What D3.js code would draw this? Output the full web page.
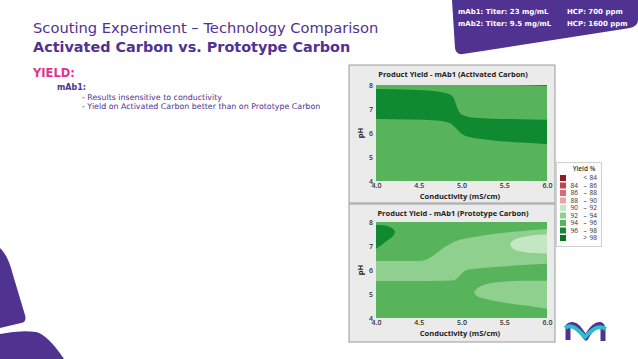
<!DOCTYPE html>
<html>
<head>
<meta charset="utf-8">
<script src="https://cdn.jsdelivr.net/npm/d3@7"></script>
<style>
  body { margin: 0; background: #fff; }
  svg { display: block; font-family: "DejaVu Sans", Verdana, sans-serif; }
  .axis text { font-family: "Open Sans", sans-serif; font-size: 7px; font-weight: 600; fill: #333; }
  .axis .domain { display: none; }
  .panel-title, .axis-label { font-family: "Open Sans", sans-serif; font-weight: 700; fill: #222; }
  .legend text { font-family: "Open Sans", sans-serif; font-size: 6.5px; fill: #333; }
</style>
</head>
<body>
<svg id="chart" width="638" height="359"></svg>
<script>
// ticks
const condTicks = [4.0, 4.5, 5.0, 5.5, 6.0]
const phTicks = [4, 5, 6, 7, 8]

// legend
const legendRanges = [["", "<", "84"], ["84", "–", "86"], ["86", "–", "88"], ["88", "–", "90"],
                      ["90", "–", "92"], ["92", "–", "94"], ["94", "–", "96"], ["96", "–", "98"], ["", ">", "98"]]
const legendColors = ["#8c1d24", "#c2434b", "#d96c72", "#eba3a7", "#c3e6c3", "#8fd08f", "#57b45b", "#0f8a30", "#0a7326"]

// Activated Carbon: boundaries of the 96-98 band, [conductivity, pH]
const actBandUpper = [[4.0, 7.83], [4.4, 7.8], [4.7, 7.74], [4.85, 7.62], [4.91, 7.45], [4.94, 7.15],
                      [4.97, 6.9], [5.02, 6.74], [5.15, 6.64], [5.6, 6.58], [6.0, 6.55]]
const actBandLower = [[4.0, 6.58], [4.4, 6.56], [4.7, 6.52], [4.86, 6.42], [4.93, 6.22], [4.99, 6.0],
                      [5.07, 5.85], [5.35, 5.7], [5.7, 5.6], [6.0, 5.53]]
const actCorner = [[5.65, 8.0], [5.85, 7.98], [6.0, 7.96]]

// Prototype Carbon: 92-94 band and closed regions
const protoBandUpper = [[4.0, 6.37], [4.5, 6.38], [4.6, 6.45], [4.68, 6.62], [4.8, 6.95], [4.92, 7.18],
                        [5.15, 7.37], [5.55, 7.57], [6.0, 7.71]]
const protoBandLower = [[4.0, 5.54], [4.6, 5.54], [4.9, 5.56], [4.97, 5.72], [5.02, 5.92], [5.11, 6.03],
                        [5.5, 6.15], [6.0, 6.26]]
const protoLobeHigh = [[5.57, 7.07], [5.6, 7.22], [5.68, 7.34], [5.82, 7.44], [6.0, 7.49], [6.15, 7.5],
                       [6.15, 6.68], [6.0, 6.69], [5.82, 6.71], [5.68, 6.78], [5.6, 6.9]]
const protoLobeLow = [[5.15, 5.05], [5.2, 5.28], [5.31, 5.43], [5.55, 5.53], [6.0, 5.55], [6.15, 5.55],
                      [6.15, 4.35], [6.0, 4.39], [5.75, 4.52], [5.5, 4.64], [5.3, 4.78], [5.19, 4.9]]
const protoBlob = [[3.9, 7.88], [4.0, 7.87], [4.1, 7.85], [4.18, 7.76], [4.22, 7.6], [4.2, 7.42],
                   [4.12, 7.2], [4.04, 6.98], [3.95, 6.82], [3.85, 6.9]]

const purple = "#503291"
const c90 = legendColors[4], c92 = legendColors[5], c94 = legendColors[6], c96 = legendColors[7]

const svg = d3.select("#chart")

// header banner
svg.append("path")
  .attr("d", "M452,0 H638 V20 Q638,26 630,28 L463,54 Q456,55 455,48 Z")
  .attr("fill", purple)
const banner = [["mAb1: Titer: 23 mg/mL", "HCP: 700 ppm", 14], ["mAb2: Titer: 9.5 mg/mL", "HCP: 1600 ppm", 26]]
banner.forEach(r => {
  svg.append("text").attr("x", 458).attr("y", r[2]).text(r[0])
    .attr("fill", "#fff").attr("font-size", 7).attr("font-weight", "bold")
  svg.append("text").attr("x", 567).attr("y", r[2]).text(r[1])
    .attr("fill", "#fff").attr("font-size", 7).attr("font-weight", "bold")
})

// titles and notes
svg.append("text").attr("x", 33).attr("y", 33).attr("font-size", 14.7).attr("fill", purple)
  .text("Scouting Experiment – Technology Comparison")
svg.append("text").attr("x", 33).attr("y", 52).attr("font-size", 14.4).attr("font-weight", "bold").attr("fill", purple)
  .text("Activated Carbon vs. Prototype Carbon")
svg.append("text").attr("x", 33).attr("y", 77).attr("font-size", 11.5).attr("font-weight", "bold").attr("fill", "#e0338f")
  .text("YIELD:")
svg.append("text").attr("x", 57).attr("y", 90).attr("font-size", 8).attr("font-weight", "bold").attr("fill", purple)
  .text("mAb1:")
svg.append("text").attr("x", 82).attr("y", 100).attr("font-size", 7.9).attr("fill", purple)
  .text("- Results insensitive to conductivity")
svg.append("text").attr("x", 82).attr("y", 109).attr("font-size", 7.9).attr("fill", purple)
  .text("- Yield on Activated Carbon better than on Prototype Carbon")

// decorative shapes
svg.append("path").attr("d", "M0,248 Q8,255 13,275 L25,315 Q27,322 21,323 L0,328 Z").attr("fill", purple)
svg.append("path").attr("d", "M0,334 Q20,330 36,332 Q48,335 64,359 L0,359 Z").attr("fill", purple)

// logo
const logo = svg.append("g")
logo.append("path").attr("d", "M568,340 L568,326 Q574,322 580,330 L586,338 Q591,328 597,325 Q603,323 603,330 L603,341")
  .attr("fill", "none").attr("stroke", purple).attr("stroke-width", 5).attr("stroke-linejoin", "round")
logo.append("path").attr("d", "M565,328 C572,323 578,330 585,337 C591,331 597,324 606,329")
  .attr("fill", "none").attr("stroke", "#2dbecd").attr("stroke-width", 4)

function drawPanel(p) {
  const x = d3.scaleLinear().domain([4, 6]).range([376, 547])
  const y = d3.scaleLinear().domain([4, 8]).range([p.bottom, p.top])
  const g = svg.append("g")

  g.append("rect").attr("x", 349).attr("y", p.boxTop).attr("width", 206).attr("height", 138)
    .attr("fill", "#ebebeb").attr("stroke", "#9a9a9a")

  svg.append("clipPath").attr("id", p.id).append("rect")
    .attr("x", x(4)).attr("y", y(8)).attr("width", x(6) - x(4)).attr("height", y(4) - y(8))
  const plot = g.append("g").attr("clip-path", `url(#${p.id})`)
  plot.append("rect")
    .attr("x", x(4)).attr("y", y(8)).attr("width", x(6) - x(4)).attr("height", y(4) - y(8))
    .attr("fill", c94)

  const below = d3.area().x(d => x(d[0])).y0(y(4)).y1(d => y(d[1])).curve(d3.curveMonotoneX)
  const above = d3.area().x(d => x(d[0])).y0(y(8)).y1(d => y(d[1])).curve(d3.curveMonotoneX)
  const closed = d3.line().x(d => x(d[0])).y(d => y(d[1])).curve(d3.curveCatmullRomClosed.alpha(0.5))

  p.layers.forEach(l => {
    const gen = l.kind === "below" ? below : l.kind === "above" ? above : closed
    plot.append("path").datum(l.data).attr("d", gen).attr("fill", l.color)
  })

  g.append("g").attr("class", "axis").attr("transform", `translate(${x(4)},0)`)
    .call(d3.axisLeft(y).tickValues(phTicks).tickFormat(d3.format("d")).tickSize(0).tickPadding(3))
  g.append("g").attr("class", "axis").attr("transform", `translate(0,${y(4)})`)
    .call(d3.axisBottom(x).tickValues(condTicks).tickFormat(d3.format(".1f")).tickSize(0).tickPadding(2))

  g.append("text").attr("class", "panel-title").attr("x", 453).attr("y", p.boxTop + 12)
    .attr("text-anchor", "middle").attr("font-size", 7.5).text(p.title)
  g.append("text").attr("class", "axis-label").attr("x", 460).attr("y", y(4) + 18)
    .attr("text-anchor", "middle").attr("font-size", 7.5).text("Conductivity (mS/cm)")
  g.append("text").attr("class", "axis-label").attr("text-anchor", "middle").attr("font-size", 7.5)
    .attr("transform", `translate(363,${(y(4) + y(8)) / 2}) rotate(-90)`).text("pH")
}

drawPanel({
  id: "clipTop", boxTop: 65, top: 85, bottom: 181,
  title: "Product Yield - mAb1 (Activated Carbon)",
  layers: [
    {kind: "below", data: actBandUpper, color: c96},
    {kind: "below", data: actBandLower, color: c94},
    {kind: "above", data: actCorner, color: c96}
  ]
})
drawPanel({
  id: "clipBottom", boxTop: 204, top: 222, bottom: 318,
  title: "Product Yield - mAb1 (Prototype Carbon)",
  layers: [
    {kind: "below", data: protoBandUpper, color: c92},
    {kind: "below", data: protoBandLower, color: c94},
    {kind: "closed", data: protoLobeHigh, color: c90},
    {kind: "closed", data: protoLobeLow, color: c92},
    {kind: "closed", data: protoBlob, color: c96}
  ]
})

// legend
const legend = svg.append("g").attr("class", "legend")
legend.append("rect").attr("x", 556.5).attr("y", 162.5).attr("width", 45).attr("height", 84)
  .attr("fill", "#fdfdfd").attr("stroke", "#d0d0d0")
legend.append("text").attr("x", 584).attr("y", 170.5).attr("text-anchor", "middle").attr("font-weight", 600).text("Yield %")
legendRanges.forEach((r, i) => {
  const cy = 178 + i * 7.5
  legend.append("rect").attr("x", 560).attr("y", cy - 3).attr("width", 6).attr("height", 6).attr("fill", legendColors[i])
  legend.append("text").attr("x", 578).attr("y", cy + 2.3).attr("text-anchor", "end").text(r[0])
  legend.append("text").attr("x", 585).attr("y", cy + 2.3).attr("text-anchor", "middle").text(r[1])
  legend.append("text").attr("x", 597).attr("y", cy + 2.3).attr("text-anchor", "end").text(r[2])
})
</script>
</body>
</html>
